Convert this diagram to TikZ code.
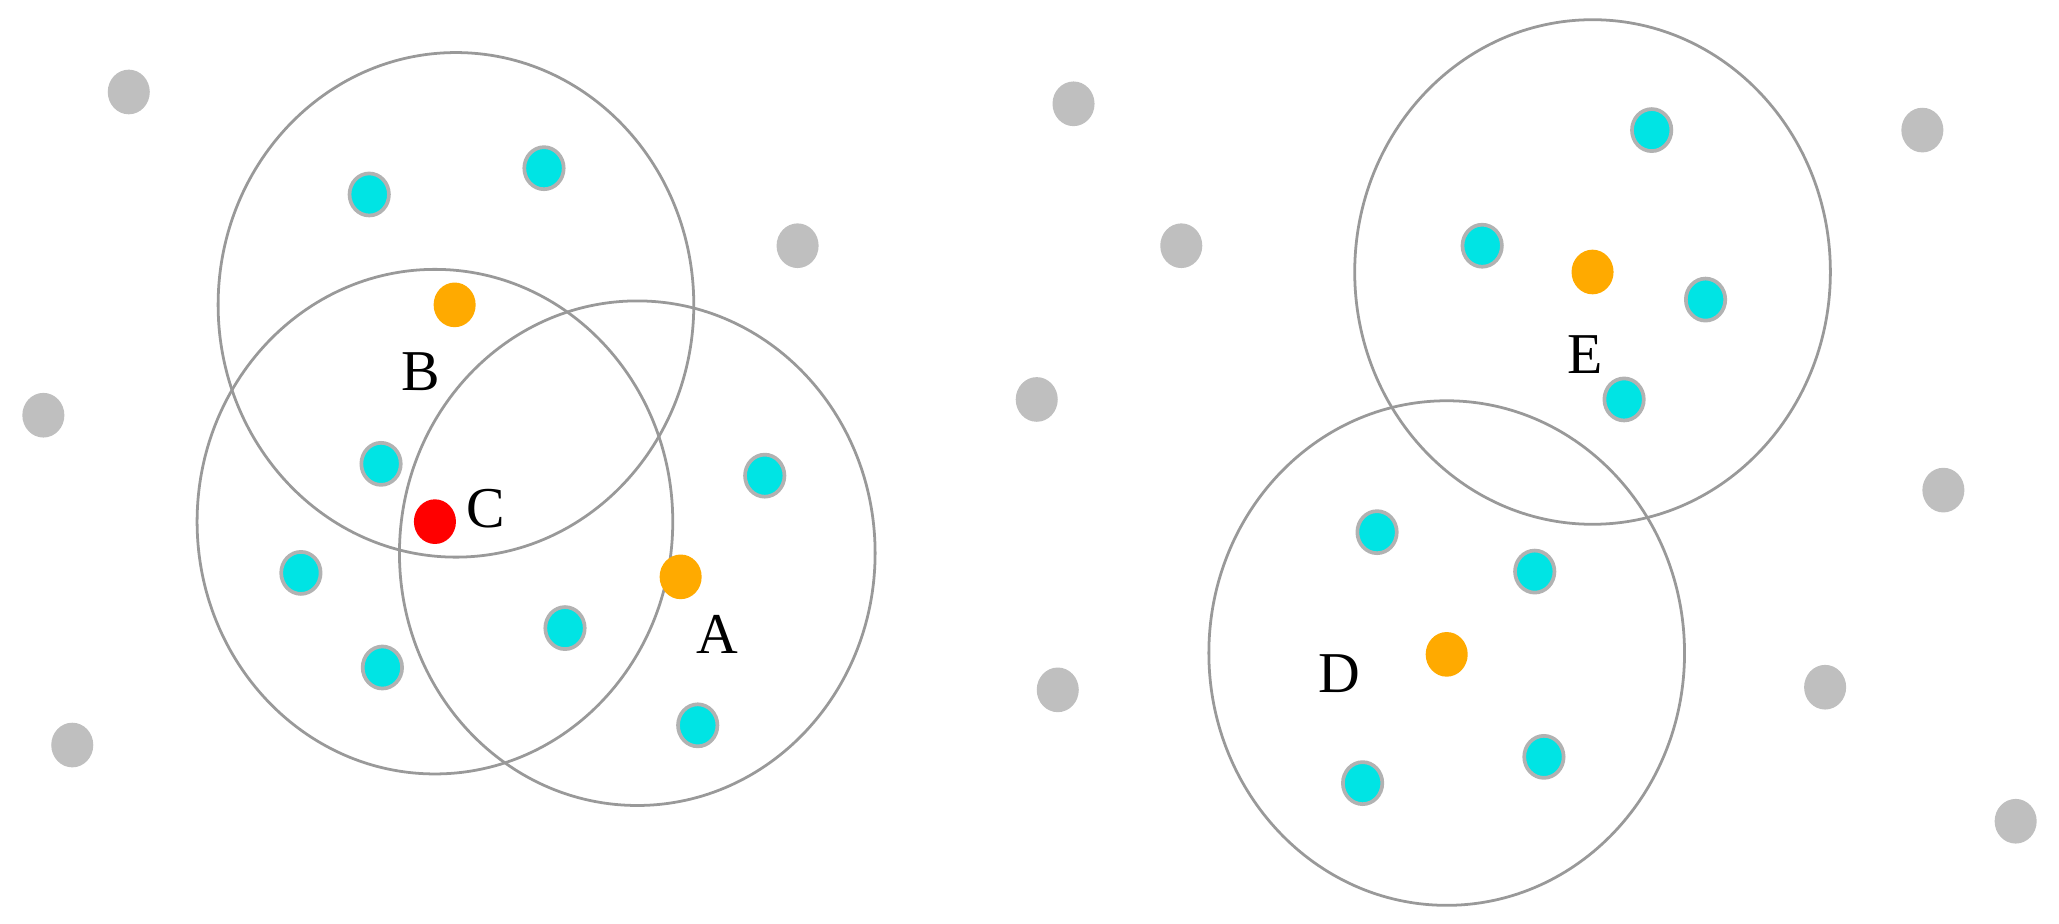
\documentclass[tikz,border=0pt]{standalone}
\usepackage{fontspec}
\setmainfont{Liberation Serif}
\definecolor{cy}{HTML}{00E4E4}
\definecolor{og}{HTML}{FFAA00}
\begin{document}
\begin{tikzpicture}[x=0.01cm,y=-0.01cm,
  ring/.style={draw=black!40,line width=0.6pt},
  gdot/.style={fill=black!25},
  cdot/.style={fill=cy,draw=black!30,line width=0.8pt},
  odot/.style={fill=og},
  rdot/.style={fill=red},
  lab/.style={font=\fontsize{12.5}{15}\selectfont}]
\useasboundingbox (0,0) rectangle (1567,703);
\foreach \x/\y in {347/232,331/397,485/421,1212/207,1101/497}
  \draw[ring] (\x,\y) ellipse [x radius=181,y radius=192];
\foreach \x/\y in {98/70,607/187,33/316,55/567,817/79,899/187,789/304,805/525,1463/99,1479/373,1389/523,1534/625}
  \path[gdot] (\x,\y) ellipse [x radius=16,y radius=17];
\foreach \x/\y in {281/148,414/128,290/353,229/436,291/508,430/478,582/362,531/552,1257/99,1128/187,1298/228,1236/304,1048/405,1168/435,1037/596,1175/576}
  \path[cdot] (\x,\y) ellipse [x radius=15,y radius=16];
\foreach \x/\y in {346/232,518/439,1212/207,1101/498}
  \path[odot] (\x,\y) ellipse [x radius=16,y radius=17];
\path[rdot] (331,397) ellipse [x radius=16,y radius=17];
\node[lab] (B) at (320,283) {B};
\node[lab] (C) at (370,387) {C};
\node[lab] (A) at (546,483) {A};
\node[lab] (E) at (1206,270) {E};
\node[lab] (D) at (1019,513) {D};
\end{tikzpicture}
\end{document}
